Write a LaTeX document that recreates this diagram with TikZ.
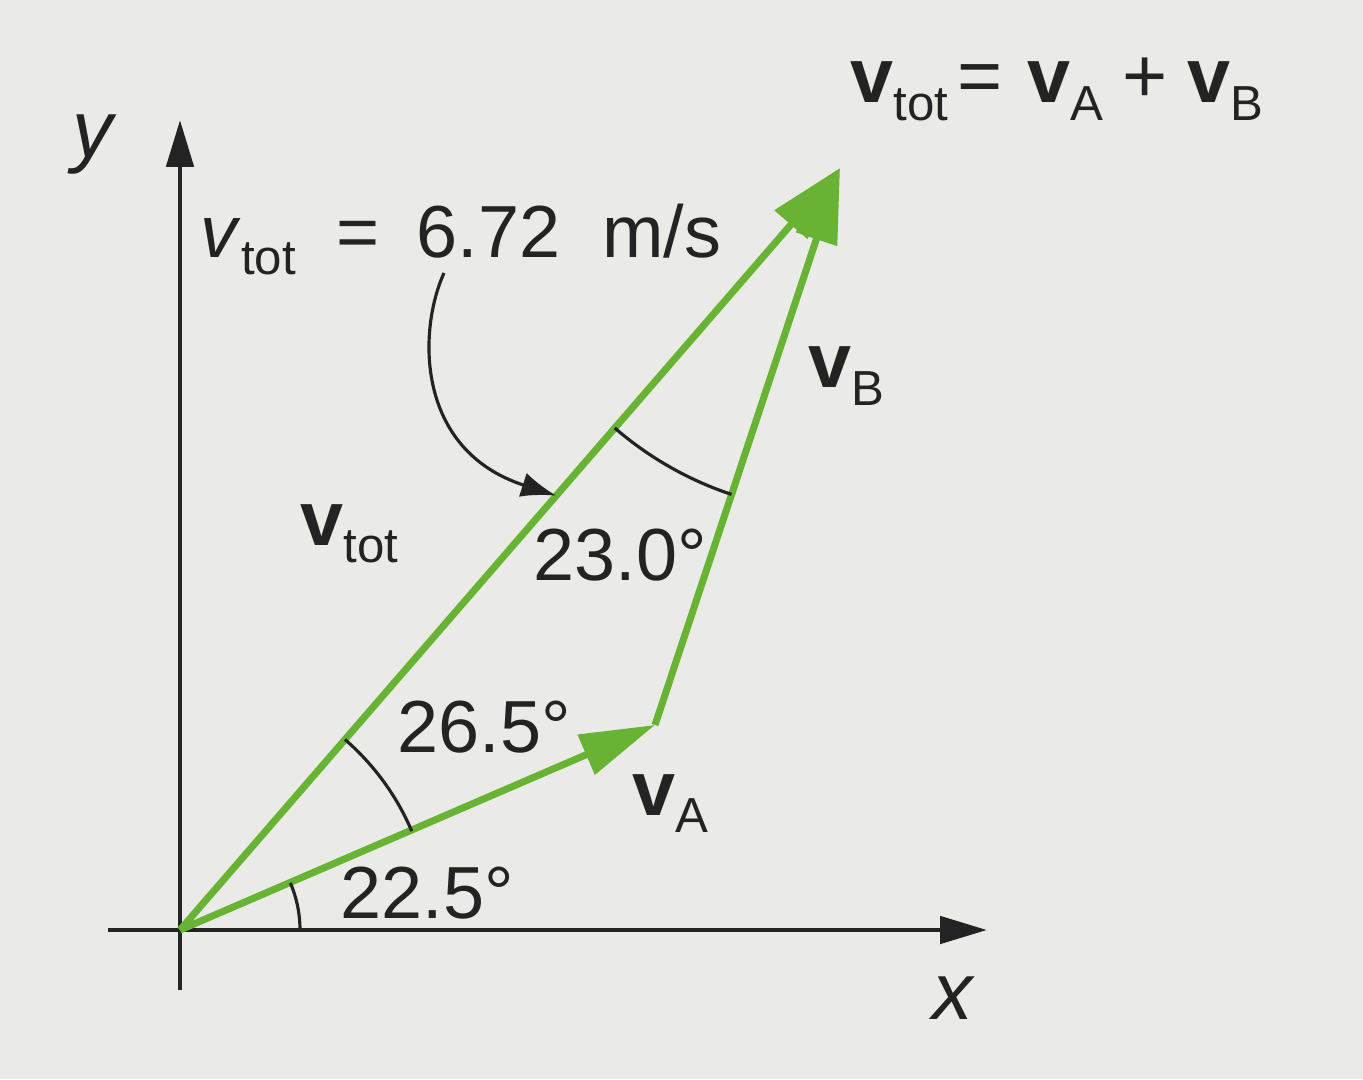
\documentclass[tikz,border=0pt]{standalone}
\usepackage{fontspec}
\setmainfont{Liberation Sans}
\usetikzlibrary{arrows.meta, positioning, calc}
\definecolor{vecgreen}{RGB}{104,178,52}
\definecolor{paper}{RGB}{234,234,231}
\definecolor{ink}{RGB}{35,35,35}
\newcommand{\sublow}[1]{\raisebox{-0.22em}{\fontsize{14}{14}\selectfont #1}}
\tikzset{
  axis/.style={line width=1.4pt, color=ink, -{Triangle[length=4.7mm,width=2.7mm]}},
  vec/.style={line width=2pt, color=vecgreen, -{Triangle[length=7.5mm,width=4.2mm]}},
  ang/.style={line width=0.9pt, color=ink},
  lbl/.style={font=\fontsize{21}{24}\selectfont, text=ink, inner sep=0pt},
  vlbl/.style={font=\fontsize{22}{24}\selectfont, text=ink, inner sep=0pt, anchor=base west},
}

\begin{document}
\begin{tikzpicture}
\fill [paper] (0,0) rectangle (13.63,10.79);
\useasboundingbox (0,0) rectangle (13.63,10.79);
\coordinate (O) at (1.80,1.49);
\coordinate (xs) at (1.08,1.49);
\coordinate (xe) at (9.87,1.49);
\coordinate (ys) at (1.80,0.89);
\coordinate (ye) at (1.80,9.59);
\coordinate (A) at (6.55,3.54);
\coordinate (T) at (8.40,9.11);
\draw [axis] (xs) -- (xe);
\draw [axis] (ys) -- (ye);
\draw [vec] (O) -- (A);
\draw [vec] (A) -- (T);
\draw [vec] (O) -- (T);
\draw [ang] (O) ++(0:1.2) arc [start angle=0, end angle=23.1, radius=1.2];
\draw [ang] (O) ++(23.1:2.52) arc [start angle=23.1, end angle=49.1, radius=2.52];
\draw [ang] (T) ++(229.1:3.44) arc [start angle=229.1, end angle=251.6, radius=3.44];
\node [lbl, font=\fontsize{23}{24}\selectfont\itshape] (ylab) at (0.93,9.34) {y};
\node [lbl, font=\fontsize{23}{24}\selectfont\itshape] (xlab) at (9.53,0.81) {x};
\node [lbl, anchor=base west] (speed) at (2.00,8.21) {\textit{v}\sublow{tot}\hspace{0.55em}=\hspace{0.5em}6.72\hspace{0.57em}m/s};
\node [lbl, anchor=base west] (ang1) at (3.40,1.61) {22.5\textdegree};
\node [lbl, anchor=base west] (ang2) at (3.97,3.27) {26.5\textdegree};
\node [lbl, anchor=base west] (ang3) at (5.33,4.99) {23.0\textdegree};
\node [vlbl] (vtotlab) at (3.00,5.34) {\textbf{v}\sublow{tot}};
\node [vlbl] (vblab) at (8.08,6.91) {\textbf{v}\sublow{B}};
\node [vlbl] (valab) at (6.32,2.64) {\textbf{v}\sublow{A}};
\node [vlbl] (sumlab) at (8.50,9.76) {\textbf{v}\sublow{tot}\hspace{0.12em}=\hspace{0.32em}\textbf{v}\sublow{A}\hspace{0.25em}+\hspace{0.25em}\textbf{v}\sublow{B}};
\coordinate (foot) at (4.44,8.06);
\coordinate (hit) at ($(O)!0.57!(T)$);
\draw [ang, -{Latex[length=3.5mm,width=2.5mm]}] (foot) .. controls (4.18,7.49) and (4.15,6.29) .. (hit);
\end{tikzpicture}
\end{document}
